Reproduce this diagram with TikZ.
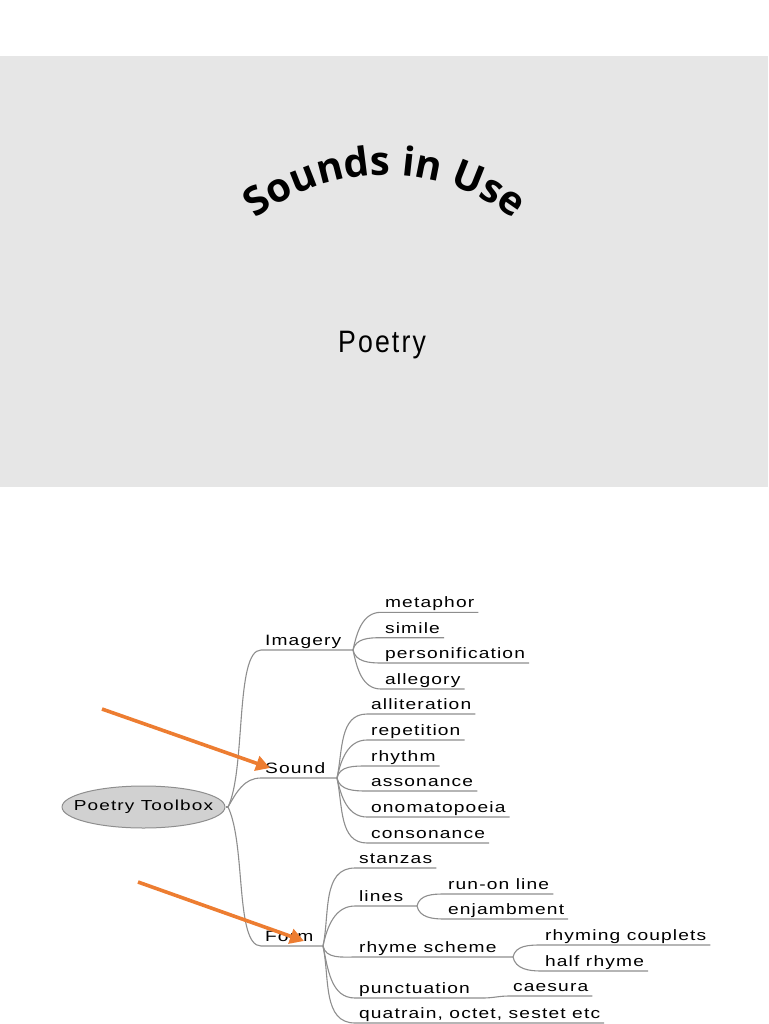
\documentclass[tikz,border=0pt]{standalone}
\usepackage{fontspec}
\usetikzlibrary{arrows.meta,decorations.text,shapes.geometric}
\newfontfamily\mapfont[LetterSpace=6]{Liberation Sans}
\newfontfamily\subfont[LetterSpace=8]{Liberation Sans}
\newfontfamily\titlefont{Open Sans}
\definecolor{panelgray}{HTML}{E6E6E6}
\definecolor{wiregray}{HTML}{8E8E8E}
\definecolor{arroworange}{HTML}{ED7D31}
\tikzset{
  mapnode/.style={anchor=south west, inner xsep=3pt, inner ysep=0pt, text height=10pt, text depth=4.5pt, xscale=1.28,
    font=\mapfont\fontsize{15}{15}\selectfont},
  leaf/.style={mapnode},
  wire/.style={draw=wiregray, line width=1.1pt},
  up/.style={out=78, in=180},
  down/.style={out=-78, in=180},
  pointer/.style={draw=arroworange, line width=3.6pt, -{Triangle[length=14pt,width=15pt]}}
}
\begin{document}
\begin{tikzpicture}[x=1pt, y=-1pt]
\useasboundingbox (0,0) rectangle (768,1024);
% Grey title panel
\fill[panelgray] (0,56) rectangle (768,487);
\path[decorate, decoration={text along path, text align=center,
    text={|\titlefont\bfseries\fontsize{40}{40}\selectfont|Sounds in Use}}]
  (385,385) ++(-135:210) arc (-135:-45:210);
\node[font=\subfont\fontsize{31}{31}\selectfont, xscale=0.86] (subtitle) at (382,345) {Poetry};

% Root of the map
\node[ellipse, draw=wiregray, fill=black!18, line width=1pt, minimum width=124.4pt, minimum height=42pt, inner sep=0pt, xscale=1.31,
  font=\mapfont\fontsize{14.5}{15}\selectfont] (root) at (143.5,807) {\makebox[0pt]{Poetry Toolbox}};
\coordinate (roothub) at (228,807);
\draw[wire] (root.east) -- (roothub);

% Main branches
\node[mapnode] (imagery) at (261,650) {Imagery};
\node[mapnode] (sound) at (261,778) {Sound};
\node[mapnode] (form) at (261,946) {Form};
\coordinate (imageryhub) at (353,650);
\coordinate (soundhub) at (337,778);
\coordinate (formhub) at (323,946);
\draw[wire] (roothub) .. controls +(18,-37) and +(-26,0) .. (imagery.south west) -- (imageryhub);
\draw[wire] (roothub) to[out=60, in=180] (sound.south west) -- (soundhub);
\draw[wire] (roothub) .. controls +(18,37) and +(-26,0) .. (form.south west) -- (formhub);

% Imagery leaves
\node[leaf] (metaphor) at (381,612.3) {metaphor};
\node[leaf] (simile) at (381,637.7) {simile};
\node[leaf] (personification) at (381,663) {personification};
\node[leaf] (allegory) at (381,689) {allegory};
\draw[wire] (imageryhub) to[up] (metaphor.south west) -- (metaphor.south east);
\draw[wire] (imageryhub) to[up] (simile.south west) -- (simile.south east);
\draw[wire] (imageryhub) to[down] (personification.south west) -- (personification.south east);
\draw[wire] (imageryhub) to[down] (allegory.south west) -- (allegory.south east);

% Sound leaves
\node[leaf] (alliteration) at (367,714) {alliteration};
\node[leaf] (repetition) at (367,740) {repetition};
\node[leaf] (rhythm) at (367,766) {rhythm};
\node[leaf] (assonance) at (367,791) {assonance};
\node[leaf] (onomatopoeia) at (367,817) {onomatopoeia};
\node[leaf] (consonance) at (367,843) {consonance};
\draw[wire] (soundhub) to[up] (alliteration.south west) -- (alliteration.south east);
\draw[wire] (soundhub) to[up] (repetition.south west) -- (repetition.south east);
\draw[wire] (soundhub) to[up] (rhythm.south west) -- (rhythm.south east);
\draw[wire] (soundhub) to[down] (assonance.south west) -- (assonance.south east);
\draw[wire] (soundhub) to[down] (onomatopoeia.south west) -- (onomatopoeia.south east);
\draw[wire] (soundhub) to[down] (consonance.south west) -- (consonance.south east);

% Form leaves
\node[leaf] (stanzas) at (355,868) {stanzas};
\node[leaf] (lines) at (355,906) {lines};
\node[leaf] (rhymescheme) at (355,957) {rhyme scheme};
\node[leaf] (punctuation) at (355,998) {punctuation};
\node[leaf] (quatrain) at (355,1023) {quatrain, octet, sestet etc};
\coordinate (lineshub) at (417,906);
\coordinate (rhymehub) at (513,957);
\coordinate (punctend) at (483,998);
\draw[wire] (formhub) to[up] (stanzas.south west) -- (stanzas.south east);
\draw[wire] (formhub) to[up] (lines.south west) -- (lineshub);
\draw[wire] (formhub) to[down] (rhymescheme.south west) -- (rhymehub);
\draw[wire] (formhub) to[down] (punctuation.south west) -- (punctend);
\draw[wire] (formhub) to[down] (quatrain.south west) -- (quatrain.south east);

% Second level
\node[leaf] (runon) at (444,894) {run-on line};
\node[leaf] (enjambment) at (444,919) {enjambment};
\node[leaf] (couplets) at (541,945) {rhyming couplets};
\node[leaf] (halfrhyme) at (541,971) {half rhyme};
\node[leaf] (caesura) at (509,996) {caesura};
\draw[wire] (lineshub) to[up] (runon.south west) -- (runon.south east);
\draw[wire] (lineshub) to[down] (enjambment.south west) -- (enjambment.south east);
\draw[wire] (rhymehub) to[up] (couplets.south west) -- (couplets.south east);
\draw[wire] (rhymehub) to[down] (halfrhyme.south west) -- (halfrhyme.south east);
\draw[wire] (punctend) to[out=0, in=180] (caesura.south west) -- (caesura.south east);

% Orange pointers
\coordinate (soundfrom) at (102,709);
\coordinate (soundtip) at (270,768);
\coordinate (formfrom) at (138,882);
\coordinate (formtip) at (304,941);
\draw[pointer] (soundfrom) -- (soundtip);
\draw[pointer] (formfrom) -- (formtip);
\end{tikzpicture}
\end{document}
